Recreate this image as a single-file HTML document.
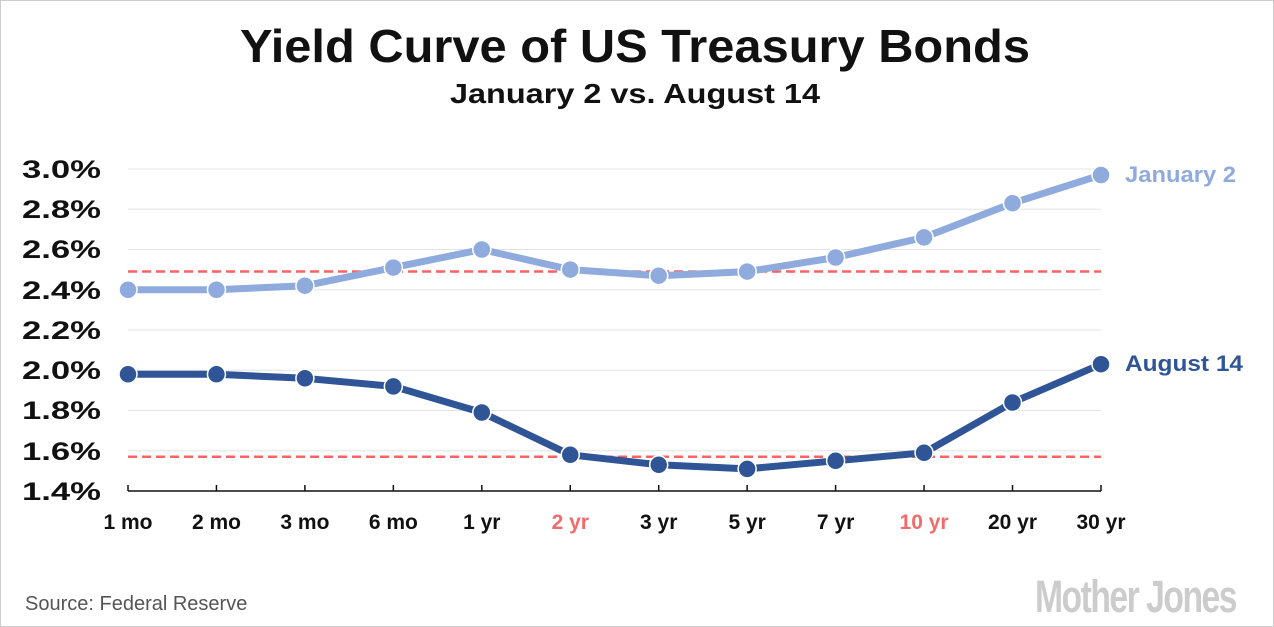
<!DOCTYPE html>
<html><head><meta charset="utf-8"><style>
html,body{margin:0;padding:0;background:#fff}
svg{display:block}
text{font-family:"Liberation Sans",sans-serif;font-weight:bold}
</style></head><body>
<svg width="1274" height="627" viewBox="0 0 1274 627" xmlns="http://www.w3.org/2000/svg">
<rect x="0.5" y="0.5" width="1273" height="626" fill="#fff" stroke="#cccccc"/>
<text x="635" y="62" font-size="46" text-anchor="middle" textLength="790" lengthAdjust="spacingAndGlyphs" fill="#111">Yield Curve of US Treasury Bonds</text>
<text x="635" y="103" font-size="28" text-anchor="middle" textLength="370" lengthAdjust="spacingAndGlyphs" fill="#111">January 2 vs. August 14</text>
<g stroke="#e3e3e3" stroke-width="1">
<line x1="128" x2="1101" y1="169" y2="169"/><line x1="128" x2="1101" y1="209.25" y2="209.25"/>
<line x1="128" x2="1101" y1="249.5" y2="249.5"/><line x1="128" x2="1101" y1="289.75" y2="289.75"/>
<line x1="128" x2="1101" y1="330" y2="330"/><line x1="128" x2="1101" y1="370.25" y2="370.25"/>
<line x1="128" x2="1101" y1="410.5" y2="410.5"/><line x1="128" x2="1101" y1="450.75" y2="450.75"/>
</g>
<g font-size="25" fill="#111">
<text x="22" y="178" textLength="79" lengthAdjust="spacingAndGlyphs">3.0%</text>
<text x="22" y="218" textLength="79" lengthAdjust="spacingAndGlyphs">2.8%</text>
<text x="22" y="258" textLength="79" lengthAdjust="spacingAndGlyphs">2.6%</text>
<text x="22" y="299" textLength="79" lengthAdjust="spacingAndGlyphs">2.4%</text>
<text x="22" y="339" textLength="79" lengthAdjust="spacingAndGlyphs">2.2%</text>
<text x="22" y="379" textLength="79" lengthAdjust="spacingAndGlyphs">2.0%</text>
<text x="22" y="419" textLength="79" lengthAdjust="spacingAndGlyphs">1.8%</text>
<text x="22" y="460" textLength="79" lengthAdjust="spacingAndGlyphs">1.6%</text>
<text x="22" y="500" textLength="79" lengthAdjust="spacingAndGlyphs">1.4%</text>
</g>
<g stroke="#111" stroke-width="1.5">
<line x1="128" x2="1101" y1="491" y2="491"/>
<line x1="128" x2="128" y1="485" y2="491"/><line x1="216.45" x2="216.45" y1="485" y2="491"/>
<line x1="304.9" x2="304.9" y1="485" y2="491"/><line x1="393.35" x2="393.35" y1="485" y2="491"/>
<line x1="481.8" x2="481.8" y1="485" y2="491"/><line x1="570.25" x2="570.25" y1="485" y2="491"/>
<line x1="658.7" x2="658.7" y1="485" y2="491"/><line x1="747.15" x2="747.15" y1="485" y2="491"/>
<line x1="835.6" x2="835.6" y1="485" y2="491"/><line x1="924.05" x2="924.05" y1="485" y2="491"/>
<line x1="1012.5" x2="1012.5" y1="485" y2="491"/><line x1="1101" x2="1101" y1="485" y2="491"/>
</g>
<g font-size="21" text-anchor="middle" fill="#111">
<text x="128" y="529">1 mo</text><text x="216.45" y="529">2 mo</text><text x="304.9" y="529">3 mo</text>
<text x="393.35" y="529">6 mo</text><text x="481.8" y="529">1 yr</text><text x="570.25" y="529" fill="#f26b6b">2 yr</text>
<text x="658.7" y="529">3 yr</text><text x="747.15" y="529">5 yr</text><text x="835.6" y="529">7 yr</text>
<text x="924.05" y="529" fill="#f26b6b">10 yr</text><text x="1012.5" y="529">20 yr</text><text x="1101" y="529">30 yr</text>
</g>
<g stroke="#f86464" stroke-width="2.5" stroke-dasharray="9,5">
<line x1="128" x2="1101" y1="271.5" y2="271.5"/>
<line x1="128" x2="1101" y1="456.8" y2="456.8"/>
</g>
<polyline fill="none" stroke="#8faadc" stroke-width="7" stroke-linejoin="round" points="128,289.75 216.45,289.75 304.9,285.7 393.35,267.6 481.8,249.5 570.25,269.6 658.7,275.7 747.15,271.6 835.6,257.5 924.05,237.4 1012.5,203.2 1101,175"/>
<g fill="#8faadc" stroke="#fff" stroke-width="1.5">
<circle cx="128" cy="289.75" r="9"/><circle cx="216.45" cy="289.75" r="9"/><circle cx="304.9" cy="285.7" r="9"/>
<circle cx="393.35" cy="267.6" r="9"/><circle cx="481.8" cy="249.5" r="9"/><circle cx="570.25" cy="269.6" r="9"/>
<circle cx="658.7" cy="275.7" r="9"/><circle cx="747.15" cy="271.6" r="9"/><circle cx="835.6" cy="257.5" r="9"/>
<circle cx="924.05" cy="237.4" r="9"/><circle cx="1012.5" cy="203.2" r="9"/><circle cx="1101" cy="175" r="9"/>
</g>
<polyline fill="none" stroke="#2f5597" stroke-width="7" stroke-linejoin="round" points="128,374.3 216.45,374.3 304.9,378.3 393.35,386.4 481.8,412.5 570.25,454.8 658.7,464.8 747.15,468.9 835.6,460.8 924.05,452.8 1012.5,402.5 1101,364.2"/>
<g fill="#2f5597" stroke="#fff" stroke-width="1.5">
<circle cx="128" cy="374.3" r="9"/><circle cx="216.45" cy="374.3" r="9"/><circle cx="304.9" cy="378.3" r="9"/>
<circle cx="393.35" cy="386.4" r="9"/><circle cx="481.8" cy="412.5" r="9"/><circle cx="570.25" cy="454.8" r="9"/>
<circle cx="658.7" cy="464.8" r="9"/><circle cx="747.15" cy="468.9" r="9"/><circle cx="835.6" cy="460.8" r="9"/>
<circle cx="924.05" cy="452.8" r="9"/><circle cx="1012.5" cy="402.5" r="9"/><circle cx="1101" cy="364.2" r="9"/>
</g>
<text x="1125" y="182" font-size="22" fill="#8faadc" textLength="111" lengthAdjust="spacingAndGlyphs">January 2</text>
<text x="1125" y="371" font-size="22" fill="#2f5597" textLength="118" lengthAdjust="spacingAndGlyphs">August 14</text>
<text x="25" y="610" font-size="20" style="font-weight:normal" fill="#555">Source: Federal Reserve</text>
<text x="1035" y="612" font-size="45" fill="#cccccc" textLength="201" lengthAdjust="spacingAndGlyphs" letter-spacing="-2">Mother Jones</text>
</svg>
</body></html>
